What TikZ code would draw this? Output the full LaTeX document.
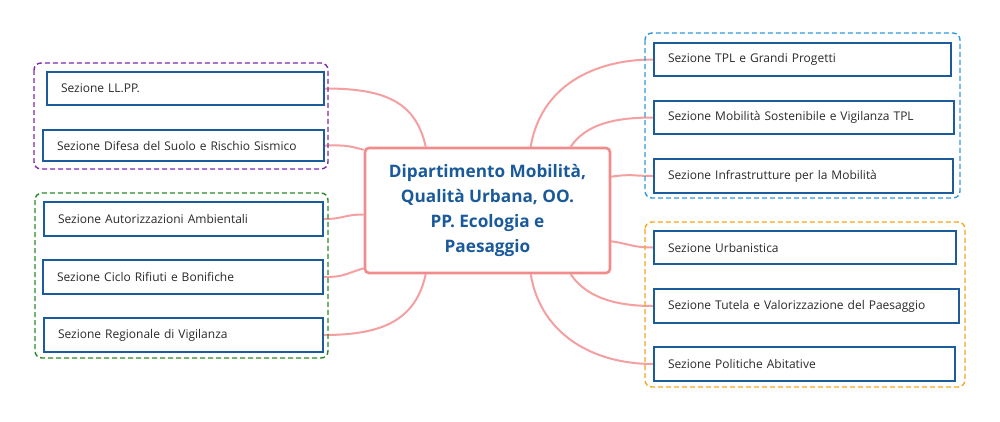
\documentclass[tikz,border=0pt]{standalone}
\usepackage{fontspec}
\setmainfont{Open Sans}
\usetikzlibrary{calc,backgrounds}
\definecolor{boxblue}{HTML}{1C5C9C}
\definecolor{titleblue}{HTML}{1A5A9A}
\definecolor{txtgray}{HTML}{2A2A2A}
\definecolor{ctrpink}{HTML}{F28C8C}
\definecolor{linkpink}{HTML}{F5A0A0}
\definecolor{grppurple}{HTML}{7D2CA8}
\definecolor{grpgreen}{HTML}{2A8A2A}
\definecolor{grpblue}{HTML}{3399DD}
\definecolor{grporange}{HTML}{F5A623}
\tikzset{
  secbox/.style={draw=boxblue, line width=2pt, fill=white, anchor=north west,
    minimum height=33pt, inner xsep=14pt, inner ysep=0pt, align=left,
    text=txtgray, font=\fontsize{12}{14}\selectfont},
  ctrbox/.style={draw=ctrpink, line width=2.6pt, fill=white, rounded corners=4pt,
    minimum width=245pt, minimum height=125pt, align=center, text=titleblue,
    font=\fontsize{17.2}{25}\selectfont\bfseries},
  grp/.style={dashed, dash pattern=on 5pt off 3pt, line width=1.4pt, rounded corners=7pt},
  link/.style={draw=linkpink, line width=2pt}
}
\begin{document}
\begin{tikzpicture}[x=1pt,y=-1pt]
\useasboundingbox (0,0) rectangle (1000,421);
% group frames
\draw[grp, grppurple] (34,63) rectangle (328,169);
\draw[grp, grpgreen] (35,193) rectangle (328,358);
\draw[grp, grpblue] (645,33) rectangle (960,198);
\draw[grp, grporange] (645,222) rectangle (965,387);
% center
\node[ctrbox] (ctr) at (487.5,210.5) {Dipartimento Mobilità,\\Qualità Urbana, OO.\\PP. Ecologia e\\Paesaggio};
% left
\node[secbox, text width=249pt, minimum height=33pt] (llpp) at (46,71) {Sezione LL.PP.};
\node[secbox, text width=253pt, minimum height=31pt] (difesa) at (42,129) {Sezione Difesa del Suolo e Rischio Sismico};
\node[secbox, text width=251pt, minimum height=34pt] (autor) at (43,201) {Sezione Autorizzazioni Ambientali};
\node[secbox, text width=252pt, minimum height=34pt] (ciclo) at (42,259) {Sezione Ciclo Rifiuti e Bonifiche};
\node[secbox, text width=251pt, minimum height=34pt] (regio) at (43,317) {Sezione Regionale di Vigilanza};
% right
\node[secbox, text width=269pt, minimum height=33pt] (tpl) at (653,42) {Sezione TPL e Grandi Progetti};
\node[secbox, text width=272pt, minimum height=33pt] (mobsost) at (653,100) {Sezione Mobilità Sostenibile e Vigilanza TPL};
\node[secbox, text width=271pt, minimum height=34pt] (infra) at (653,158) {Sezione Infrastrutture per la Mobilità};
\node[secbox, text width=274pt, minimum height=33pt] (urban) at (653,230) {Sezione Urbanistica};
\node[secbox, text width=277pt, minimum height=34pt] (tutela) at (653,288) {Sezione Tutela e Valorizzazione del Paesaggio};
\node[secbox, text width=273pt, minimum height=34pt] (polit) at (653,346) {Sezione Politiche Abitative};
% connectors
\begin{scope}[on background layer]
\fill[white] (0,0) rectangle (1000,421);
\path[link] ($(ctr.north west)+(62,0)$) .. controls +(-10,-45) and +(60,0) .. (llpp.east);
\path[link] ($(ctr.north west)+(0,3)$) .. controls +(-20,-5) and +(20,0) .. (difesa.east);
\path[link] ($(ctr.west)+(0,4)$) .. controls +(-20,0) and +(20,0) .. (autor.east);
\path[link] ($(ctr.south west)+(0,-6)$) .. controls +(-20,6) and +(20,0) .. (ciclo.east);
\path[link] ($(ctr.south west)+(62,0)$) .. controls +(-10,45) and +(60,0) .. (regio.east);
\path[link] ($(ctr.north west)+(167,0)$) .. controls +(10,-60) and +(-60,0) .. (tpl.west);
\path[link] ($(ctr.north west)+(207,0)$) .. controls +(15,-22) and +(-40,0) .. (mobsost.west);
\path[link] ($(ctr.north east)+(0,30)$) .. controls +(20,-3) and +(-20,0) .. (infra.west);
\path[link] ($(ctr.south east)+(0,-33)$) .. controls +(20,3) and +(-20,0) .. (urban.west);
\path[link] ($(ctr.south west)+(207,0)$) .. controls +(15,22) and +(-40,0) .. (tutela.west);
\path[link] ($(ctr.south west)+(167,0)$) .. controls +(10,60) and +(-60,0) .. (polit.west);
\end{scope}
\end{tikzpicture}
\end{document}
